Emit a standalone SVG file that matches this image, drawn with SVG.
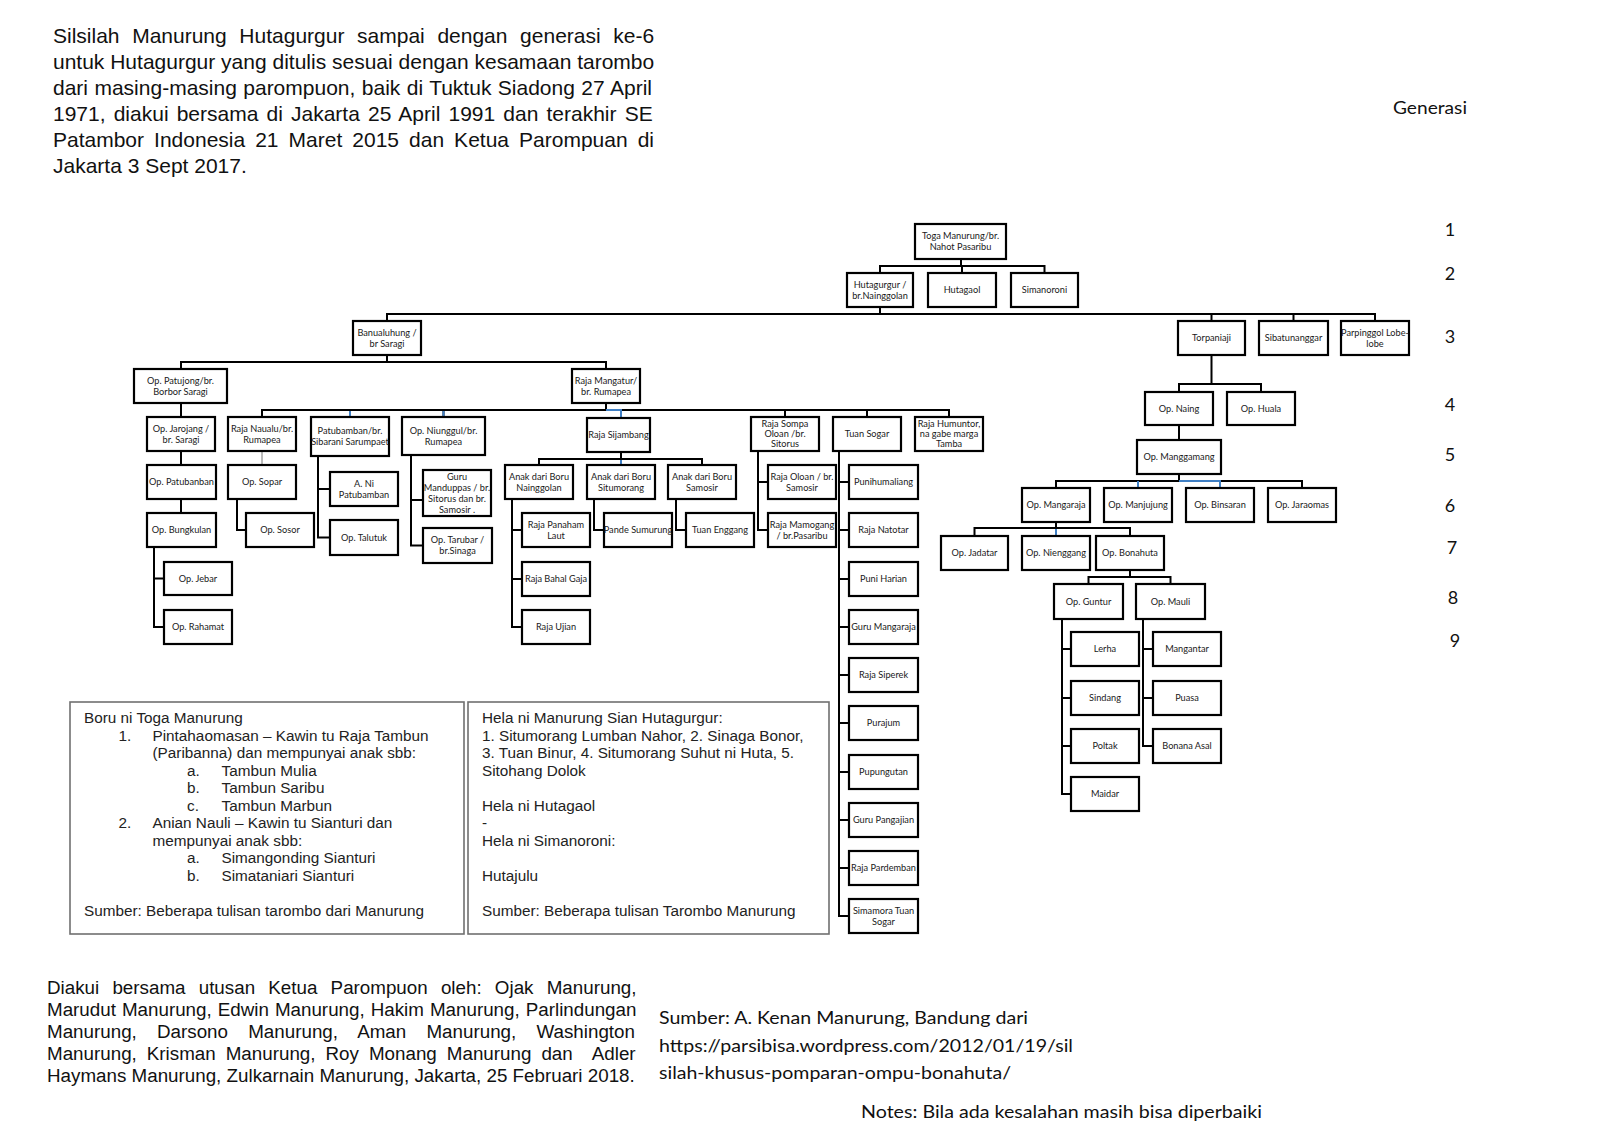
<svg xmlns="http://www.w3.org/2000/svg" width="1600" height="1132" viewBox="0 0 1600 1132">
<style>
.n rect{fill:#fff;stroke:#000;stroke-width:2.2}
.n text{font-family:Lato,"Liberation Sans",sans-serif;font-size:9.2px;text-anchor:middle;fill:#1a1a1a}
.c path{fill:none;stroke:#000;stroke-width:2}
.c path.b{stroke:#3f7fc4}
.c path.t{stroke:#777;stroke-width:1}
.para{font-family:"Liberation Sans",Arial,sans-serif;font-size:21px;fill:#111}
.foot{font-family:"Liberation Sans",Arial,sans-serif;font-size:18.8px;fill:#111}
.note{font-family:"Liberation Sans",Arial,sans-serif;font-size:15.3px;fill:#222}
.cal{font-family:Lato,"Open Sans",sans-serif;font-size:18px;fill:#111}
.gen{font-family:Lato,"Open Sans",sans-serif;font-size:18px;fill:#111;text-anchor:middle}
.frame{fill:#fff;stroke:#707070;stroke-width:1.6}
</style>
<rect width="1600" height="1132" fill="#fff"/>

<g id="intro">
<text class="para" x="53" y="43" word-spacing="6.8">Silsilah Manurung Hutagurgur sampai dengan generasi ke-6</text>
<text class="para" x="53" y="69">untuk Hutagurgur yang ditulis sesuai dengan kesamaan tarombo</text>
<text class="para" x="53" y="95" word-spacing="0.6">dari masing-masing parompuon, baik di Tuktuk Siadong 27 April</text>
<text class="para" x="53" y="121" word-spacing="2.3">1971, diakui bersama di Jakarta 25 April 1991 dan terakhir SE</text>
<text class="para" x="53" y="147" word-spacing="4.2">Patambor Indonesia 21 Maret 2015 dan Ketua Parompuan di</text>
<text class="para" x="53" y="173">Jakarta 3 Sept 2017.</text>
</g>

<g id="generasi">
<text class="cal" x="1393" y="114" textLength="74" lengthAdjust="spacingAndGlyphs">Generasi</text>
<text class="gen" x="1450" y="235.5">1</text>
<text class="gen" x="1450" y="279.5">2</text>
<text class="gen" x="1450" y="342.5">3</text>
<text class="gen" x="1450" y="411">4</text>
<text class="gen" x="1450" y="461">5</text>
<text class="gen" x="1450" y="512">6</text>
<text class="gen" x="1452" y="554">7</text>
<text class="gen" x="1453" y="604">8</text>
<text class="gen" x="1455" y="646.5">9</text>
</g>

<g id="connectors" class="c">
<path d="M961,259V266 M880,273V266H1044.5V273 M962,266V273"/>
<path d="M880,307V314 M387,321V314H1375V321 M1211.5,314V321 M1293.5,314V321"/>
<path d="M387,355V362 M181,369V362H606V369"/>
<path d="M181,403V417 M181,451V465 M181,499V513"/>
<path d="M154,547V627H164 M154,578.5H164"/>
<path d="M606,403V410 M262,417V410H949V417 M785,410V417 M867,410V417 M350,410V417 M443.5,410V417"/>
<path class="b" d="M606,410H621V418 M350,411V416 M443.5,411V416"/>
<path class="t" d="M262,451V465"/>
<path d="M237,499V530H246"/>
<path d="M318,456V537.5H330 M318,489H330"/>
<path d="M411,455V545.5H423 M411,500H423"/>
<path d="M621,452V459 M539,465V459H702V465"/>
<path class="b" d="M621,460V465"/>
<path d="M512,499V627H522 M512,530H522 M512,579H522"/>
<path d="M594,499V530H604"/>
<path d="M676,499V530H686"/>
<path d="M758,451V530H768 M758,482H768"/>
<path d="M839,451V916H849 M839,482H849 M839,530H849 M839,579H849 M839,627H849 M839,675H849 M839,723H849 M839,772H849 M839,820H849 M839,868H849"/>
<path d="M1211.5,355V384 M1179,392V384H1261V392"/>
<path d="M1179,425V440"/>
<path d="M1179,474V481 M1056,488V481H1302V488"/>
<path class="b" d="M1179,481H1220V488 M1138,481V488"/>
<path d="M1056,522V528 M974.5,536V528H1130V536"/>
<path class="b" d="M1056,529V536"/>
<path d="M1130,570V577 M1088.5,584V577H1170.5V584"/>
<path d="M1062,619V794H1071 M1062,649H1071 M1062,698H1071 M1062,746H1071"/>
<path d="M1143,619V746H1153 M1143,649H1153 M1143,698H1153"/>
</g>

<g id="n-toga" class="n"><rect x="915" y="224" width="91" height="35"/><text x="960.5" y="239.3">Toga Manurung/br.</text><text x="960.5" y="250.3">Nahot Pasaribu</text></g>
<g id="n-hutagurgur" class="n"><rect x="847" y="273" width="66" height="34"/><text x="880" y="287.8">Hutagurgur /</text><text x="880" y="298.8">br.Nainggolan</text></g>
<g id="n-hutagaol" class="n"><rect x="928" y="273" width="68" height="34"/><text x="962" y="293.3">Hutagaol</text></g>
<g id="n-simanoroni" class="n"><rect x="1011" y="273" width="67" height="34"/><text x="1044.5" y="293.3">Simanoroni</text></g>
<g id="n-banualuhung" class="n"><rect x="353" y="321" width="68" height="34"/><text x="387" y="335.8">Banualuhung /</text><text x="387" y="346.8">br Saragi</text></g>
<g id="n-torpaniaji" class="n"><rect x="1178" y="321" width="67" height="34"/><text x="1211.5" y="341.3">Torpaniaji</text></g>
<g id="n-sibatunanggar" class="n"><rect x="1259" y="321" width="69" height="34"/><text x="1293.5" y="341.3">Sibatunanggar</text></g>
<g id="n-parpinggol" class="n"><rect x="1341" y="321" width="68" height="34"/><text x="1375" y="335.8">Parpinggol Lobe-</text><text x="1375" y="346.8">lobe</text></g>
<g id="n-patujong" class="n"><rect x="134" y="369" width="93" height="34"/><text x="180.5" y="383.8">Op. Patujong/br.</text><text x="180.5" y="394.8">Borbor Saragi</text></g>
<g id="n-mangatur" class="n"><rect x="572" y="369" width="68" height="34"/><text x="606" y="383.8">Raja Mangatur/</text><text x="606" y="394.8">br. Rumapea</text></g>
<g id="n-jarojang" class="n"><rect x="147" y="417" width="68" height="34"/><text x="181" y="431.8">Op. Jarojang /</text><text x="181" y="442.8">br. Saragi</text></g>
<g id="n-naualu" class="n"><rect x="228" y="417" width="68" height="34"/><text x="262" y="431.8">Raja Naualu/br.</text><text x="262" y="442.8">Rumapea</text></g>
<g id="n-patubamban" class="n"><rect x="311" y="417" width="78" height="39"/><text x="350" y="434.3">Patubamban/br.</text><text x="350" y="445.3">Sibarani Sarumpaet</text></g>
<g id="n-niunggul" class="n"><rect x="402" y="417" width="83" height="38"/><text x="443.5" y="433.8">Op. Niunggul/br.</text><text x="443.5" y="444.8">Rumapea</text></g>
<g id="n-sijambang" class="n"><rect x="587" y="418" width="63" height="34"/><text x="618.5" y="438.3">Raja Sijambang</text></g>
<g id="n-sompa" class="n"><rect x="751" y="417" width="68" height="34"/><text x="785" y="427.3">Raja Sompa</text><text x="785" y="437.3">Oloan /br.</text><text x="785" y="447.3">Sitorus</text></g>
<g id="n-tuansogar" class="n"><rect x="833" y="417" width="68" height="34"/><text x="867" y="437.3">Tuan Sogar</text></g>
<g id="n-humuntor" class="n"><rect x="915" y="417" width="68" height="34"/><text x="949" y="427.3">Raja Humuntor,</text><text x="949" y="437.3">na gabe marga</text><text x="949" y="447.3">Tamba</text></g>
<g id="n-patubanban" class="n"><rect x="147" y="465" width="69" height="34"/><text x="181.5" y="485.3">Op. Patubanban</text></g>
<g id="n-sopar" class="n"><rect x="228" y="465" width="68" height="34"/><text x="262" y="485.3">Op. Sopar</text></g>
<g id="n-anipatubamban" class="n"><rect x="330" y="472" width="68" height="34"/><text x="364" y="486.8">A. Ni</text><text x="364" y="497.8">Patubamban</text></g>
<g id="n-manduppas" class="n"><rect x="423" y="470" width="68" height="46"/><text x="457" y="479.8">Guru</text><text x="457" y="490.8">Manduppas / br.</text><text x="457" y="501.8">Sitorus dan br.</text><text x="457" y="512.8">Samosir .</text></g>
<g id="n-nainggolan" class="n"><rect x="505" y="465" width="68" height="34"/><text x="539" y="479.8">Anak dari Boru</text><text x="539" y="490.8">Nainggolan</text></g>
<g id="n-situmorang" class="n"><rect x="587" y="465" width="68" height="34"/><text x="621" y="479.8">Anak dari Boru</text><text x="621" y="490.8">Situmorang</text></g>
<g id="n-samosir" class="n"><rect x="668" y="465" width="68" height="34"/><text x="702" y="479.8">Anak dari Boru</text><text x="702" y="490.8">Samosir</text></g>
<g id="n-oloan" class="n"><rect x="768" y="465" width="68" height="34"/><text x="802" y="479.8">Raja Oloan / br.</text><text x="802" y="490.8">Samosir</text></g>
<g id="n-punihumaliang" class="n"><rect x="849" y="465" width="69" height="34"/><text x="883.5" y="485.3">Punihumaliang</text></g>
<g id="n-bungkulan" class="n"><rect x="147" y="513" width="69" height="34"/><text x="181.5" y="533.3">Op. Bungkulan</text></g>
<g id="n-sosor" class="n"><rect x="246" y="513" width="68" height="34"/><text x="280" y="533.3">Op. Sosor</text></g>
<g id="n-talutuk" class="n"><rect x="330" y="520" width="68" height="35"/><text x="364" y="540.8">Op. Talutuk</text></g>
<g id="n-tarubar" class="n"><rect x="423" y="528" width="69" height="35"/><text x="457.5" y="543.3">Op. Tarubar /</text><text x="457.5" y="554.3">br.Sinaga</text></g>
<g id="n-panaham" class="n"><rect x="522" y="513" width="68" height="34"/><text x="556" y="527.8">Raja Panaham</text><text x="556" y="538.8">Laut</text></g>
<g id="n-pande" class="n"><rect x="604" y="513" width="68" height="34"/><text x="638" y="533.3">Pande Sumurung</text></g>
<g id="n-enggang" class="n"><rect x="686" y="513" width="68" height="34"/><text x="720" y="533.3">Tuan Enggang</text></g>
<g id="n-mamogang" class="n"><rect x="768" y="513" width="68" height="34"/><text x="802" y="527.8">Raja Mamogang</text><text x="802" y="538.8">/ br.Pasaribu</text></g>
<g id="n-natotar" class="n"><rect x="849" y="513" width="69" height="34"/><text x="883.5" y="533.3">Raja Natotar</text></g>
<g id="n-jebar" class="n"><rect x="164" y="562" width="68" height="33"/><text x="198" y="581.8">Op. Jebar</text></g>
<g id="n-bahal" class="n"><rect x="522" y="562" width="68" height="34"/><text x="556" y="582.3">Raja Bahal Gaja</text></g>
<g id="n-puniharian" class="n"><rect x="849" y="562" width="69" height="34"/><text x="883.5" y="582.3">Puni Harian</text></g>
<g id="n-rahamat" class="n"><rect x="164" y="610" width="68" height="34"/><text x="198" y="630.3">Op. Rahamat</text></g>
<g id="n-ujian" class="n"><rect x="522" y="610" width="68" height="34"/><text x="556" y="630.3">Raja Ujian</text></g>
<g id="n-gurumangaraja" class="n"><rect x="849" y="610" width="69" height="34"/><text x="883.5" y="630.3">Guru Mangaraja</text></g>
<g id="n-siperek" class="n"><rect x="849" y="658" width="69" height="34"/><text x="883.5" y="678.3">Raja Siperek</text></g>
<g id="n-purajum" class="n"><rect x="849" y="706" width="69" height="34"/><text x="883.5" y="726.3">Purajum</text></g>
<g id="n-pupungutan" class="n"><rect x="849" y="755" width="69" height="34"/><text x="883.5" y="775.3">Pupungutan</text></g>
<g id="n-gurupangajian" class="n"><rect x="849" y="803" width="69" height="34"/><text x="883.5" y="823.3">Guru Pangajian</text></g>
<g id="n-pardemban" class="n"><rect x="849" y="851" width="69" height="34"/><text x="883.5" y="871.3">Raja Pardemban</text></g>
<g id="n-simamora" class="n"><rect x="849" y="899" width="69" height="34"/><text x="883.5" y="913.8">Simamora Tuan</text><text x="883.5" y="924.8">Sogar</text></g>
<g id="n-naing" class="n"><rect x="1145" y="392" width="68" height="33"/><text x="1179" y="411.8">Op. Naing</text></g>
<g id="n-huala" class="n"><rect x="1227" y="392" width="68" height="33"/><text x="1261" y="411.8">Op. Huala</text></g>
<g id="n-manggamang" class="n"><rect x="1137" y="440" width="84" height="34"/><text x="1179" y="460.3">Op. Manggamang</text></g>
<g id="n-mangaraja" class="n"><rect x="1022" y="488" width="68" height="34"/><text x="1056" y="508.3">Op. Mangaraja</text></g>
<g id="n-manjujung" class="n"><rect x="1104" y="488" width="68" height="34"/><text x="1138" y="508.3">Op. Manjujung</text></g>
<g id="n-binsaran" class="n"><rect x="1186" y="488" width="68" height="34"/><text x="1220" y="508.3">Op. Binsaran</text></g>
<g id="n-jaraomas" class="n"><rect x="1268" y="488" width="68" height="34"/><text x="1302" y="508.3">Op. Jaraomas</text></g>
<g id="n-jadatar" class="n"><rect x="941" y="536" width="67" height="34"/><text x="974.5" y="556.3">Op. Jadatar</text></g>
<g id="n-nienggang" class="n"><rect x="1022" y="536" width="68" height="34"/><text x="1056" y="556.3">Op. Nienggang</text></g>
<g id="n-bonahuta" class="n"><rect x="1096" y="536" width="68" height="34"/><text x="1130" y="556.3">Op. Bonahuta</text></g>
<g id="n-guntur" class="n"><rect x="1054" y="584" width="69" height="35"/><text x="1088.5" y="604.8">Op. Guntur</text></g>
<g id="n-mauli" class="n"><rect x="1136" y="584" width="69" height="35"/><text x="1170.5" y="604.8">Op. Mauli</text></g>
<g id="n-lerha" class="n"><rect x="1071" y="632" width="68" height="34"/><text x="1105" y="652.3">Lerha</text></g>
<g id="n-sindang" class="n"><rect x="1071" y="681" width="68" height="34"/><text x="1105" y="701.3">Sindang</text></g>
<g id="n-poltak" class="n"><rect x="1071" y="729" width="68" height="34"/><text x="1105" y="749.3">Poltak</text></g>
<g id="n-maidar" class="n"><rect x="1071" y="777" width="68" height="34"/><text x="1105" y="797.3">Maidar</text></g>
<g id="n-mangantar" class="n"><rect x="1153" y="632" width="68" height="34"/><text x="1187" y="652.3">Mangantar</text></g>
<g id="n-puasa" class="n"><rect x="1153" y="681" width="68" height="34"/><text x="1187" y="701.3">Puasa</text></g>
<g id="n-bonana" class="n"><rect x="1153" y="729" width="68" height="34"/><text x="1187" y="749.3">Bonana Asal</text></g>

<g id="box-boru">
<rect class="frame" x="70" y="702" width="394" height="232"/>
<text class="note" x="84" y="723">Boru ni Toga Manurung</text>
<text class="note" x="118.5" y="740.5">1.</text><text class="note" x="152.5" y="740.5">Pintahaomasan – Kawin tu Raja Tambun</text>
<text class="note" x="152.5" y="758">(Paribanna) dan mempunyai anak sbb:</text>
<text class="note" x="187" y="775.5">a.</text><text class="note" x="221.5" y="775.5">Tambun Mulia</text>
<text class="note" x="187" y="793">b.</text><text class="note" x="221.5" y="793">Tambun Saribu</text>
<text class="note" x="187" y="810.5">c.</text><text class="note" x="221.5" y="810.5">Tambun Marbun</text>
<text class="note" x="118.5" y="828">2.</text><text class="note" x="152.5" y="828">Anian Nauli – Kawin tu Sianturi dan</text>
<text class="note" x="152.5" y="845.5">mempunyai anak sbb:</text>
<text class="note" x="187" y="863">a.</text><text class="note" x="221.5" y="863">Simangonding Sianturi</text>
<text class="note" x="187" y="880.5">b.</text><text class="note" x="221.5" y="880.5">Simataniari Sianturi</text>
<text class="note" x="84" y="915.5">Sumber: Beberapa tulisan tarombo dari Manurung</text>
</g>

<g id="box-hela">
<rect class="frame" x="468" y="702" width="361" height="232"/>
<text class="note" x="482" y="723">Hela ni Manurung Sian Hutagurgur:</text>
<text class="note" x="482" y="740.5">1. Situmorang Lumban Nahor, 2. Sinaga Bonor,</text>
<text class="note" x="482" y="758">3. Tuan Binur, 4. Situmorang Suhut ni Huta, 5.</text>
<text class="note" x="482" y="775.5">Sitohang Dolok</text>
<text class="note" x="482" y="810.5">Hela ni Hutagaol</text>
<text class="note" x="482" y="828">-</text>
<text class="note" x="482" y="845.5">Hela ni Simanoroni:</text>
<text class="note" x="482" y="880.5">Hutajulu</text>
<text class="note" x="482" y="915.5">Sumber: Beberapa tulisan Tarombo Manurung</text>
</g>

<g id="acknowledgement">
<text class="foot" x="47" y="994" word-spacing="8">Diakui bersama utusan Ketua Parompuon oleh: Ojak Manurung,</text>
<text class="foot" x="47" y="1016" word-spacing="0.8">Marudut Manurung, Edwin Manurung, Hakim Manurung, Parlindungan</text>
<text class="foot" x="47" y="1038" word-spacing="15">Manurung, Darsono Manurung, Aman Manurung, Washington</text>
<text class="foot" x="47" y="1060" word-spacing="4.8" style="white-space:pre">Manurung, Krisman Manurung, Roy Monang Manurung dan  Adler</text>
<text class="foot" x="47" y="1082">Haymans Manurung, Zulkarnain Manurung, Jakarta, 25 Februari 2018.</text>
</g>

<g id="source">
<text class="cal" x="659" y="1023.5" textLength="369" lengthAdjust="spacingAndGlyphs">Sumber: A. Kenan Manurung, Bandung dari</text>
<text class="cal" x="659" y="1051.5" textLength="414" lengthAdjust="spacingAndGlyphs">https://parsibisa.wordpress.com/2012/01/19/sil</text>
<text class="cal" x="659" y="1078.5" textLength="352" lengthAdjust="spacingAndGlyphs">silah-khusus-pomparan-ompu-bonahuta/</text>
<text class="cal" x="861" y="1117.5" textLength="401" lengthAdjust="spacingAndGlyphs">Notes: Bila ada kesalahan masih bisa diperbaiki</text>
</g>
</svg>
